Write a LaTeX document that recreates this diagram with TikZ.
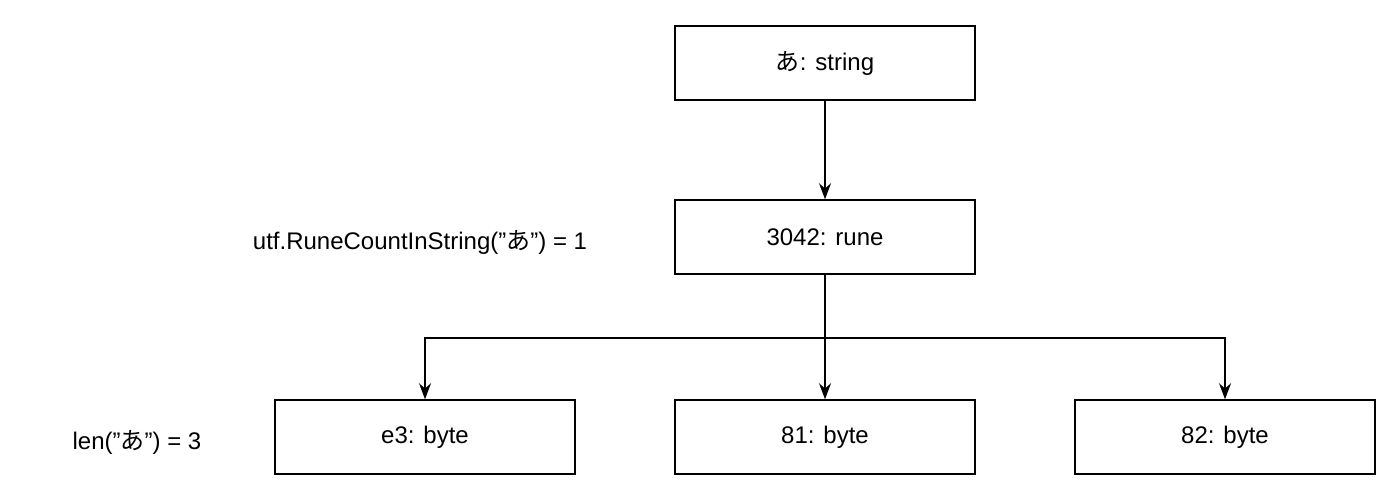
\documentclass[tikz,border=0pt]{standalone}
\usepackage{fontspec}
\setmainfont{Liberation Sans}
\newfontfamily\cjk{Noto Sans CJK JP}
\usetikzlibrary{arrows.meta}
\begin{document}
\begin{tikzpicture}[x=1pt,y=-1pt,
  box/.style={draw,line width=1.5pt,minimum width=300pt,minimum height=74pt,inner sep=0pt,font=\fontsize{24}{28}\selectfont},
  lbl/.style={font=\fontsize{24}{28}\selectfont},
  arr/.style={line width=1.5pt,-{Stealth[length=16pt,width=12pt]}}]
\useasboundingbox (0,0) rectangle (1400,501);
\node[box] (s) at (825,63) {{\cjk あ}: string};
\node[box] (r) at (825,237) {3042: rune};
\node[box] (b1) at (425,437) {e3: byte};
\node[box] (b2) at (825,437) {81: byte};
\node[box] (b3) at (1225,437) {82: byte};
\node[lbl] (l1) at (420,242) {utf.RuneCountInString("{\cjk あ}") = 1};
\node[lbl] (l2) at (137,442) {len("{\cjk あ}") = 3};
\coordinate (j) at (825,338);
\draw[arr] (s) -- (r);
\draw[arr] (r) -- (b2);
\draw[arr] (j) -| (b1);
\draw[arr] (j) -| (b3);
\end{tikzpicture}
\end{document}
